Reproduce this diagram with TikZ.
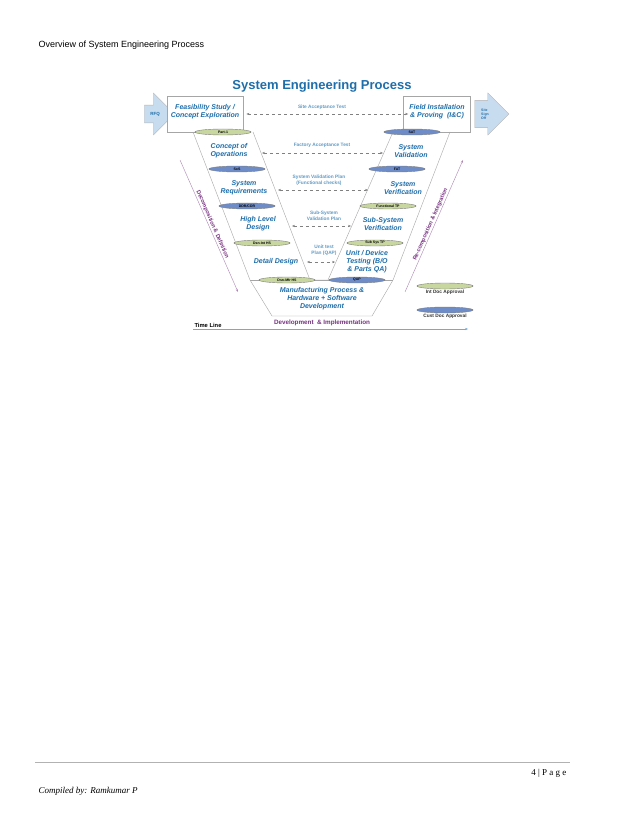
\documentclass[tikz,border=0pt]{standalone}
\usepackage{fontspec}
\setmainfont{Liberation Sans}
\newfontfamily\seriffont{Liberation Serif}
\usetikzlibrary{shapes.arrows,shapes.geometric,arrows.meta}
\definecolor{tblue}{RGB}{30,110,170}
\definecolor{lblue}{RGB}{200,220,240}
\definecolor{egreen}{RGB}{200,215,160}
\definecolor{eblue}{RGB}{110,140,200}
\definecolor{purp}{RGB}{120,50,130}
\begin{document}
\begin{tikzpicture}[x=1pt,y=-1pt,
  stage/.style={font=\fontsize{7}{8}\selectfont\bfseries\itshape,text=tblue,align=center,inner sep=1pt},
  lnk/.style={font=\fontsize{4.8}{5.6}\selectfont\bfseries,text=tblue!70,align=center,inner sep=1pt},
  dl/.style={dashed,gray,{Stealth[length=3pt]}-{Stealth[length=3pt]}},
  gel/.style={ellipse,draw=gray,fill=egreen,minimum width=56pt,minimum height=6pt,inner sep=0pt,font=\fontsize{3.5}{4}\selectfont\bfseries},
  bel/.style={ellipse,draw=gray,fill=eblue,minimum width=56pt,minimum height=6pt,inner sep=0pt,font=\fontsize{3.5}{4}\selectfont\bfseries},
  side/.style={font=\fontsize{5.6}{6}\selectfont\bfseries,text=purp,inner sep=0.5pt},
  colline/.style={draw=gray!70,thin}]
\useasboundingbox (0,0) rectangle (638,826);
\fill[white] (0,0) rectangle (638,826);
\node[anchor=west,font=\fontsize{9}{11}\selectfont] (hdr) at (35,45) {Overview of System Engineering Process};
\node[font=\fontsize{13}{15}\selectfont\bfseries,text=tblue] (title) at (322,86) {System Engineering Process};
% side arrows
\node[single arrow,draw=gray!60,fill=lblue,minimum height=30pt,minimum width=42pt,single arrow head extend=3pt,inner sep=0pt,
  font=\fontsize{4.5}{5}\selectfont\bfseries,text=tblue] (rfq) at (155,114) {RFQ\hspace{6pt}};
\node[single arrow,draw=gray!60,fill=lblue,minimum height=34pt,minimum width=42pt,single arrow head extend=3pt,inner sep=0pt,
  font=\fontsize{3.5}{4}\selectfont\bfseries,text=tblue,align=left] (sso) at (485,114) {Site\\Sign\\Off\hspace{12pt}};
% boxes
\draw[colline,fill=white] (167,96) rectangle (243,132);
\draw[colline,fill=white] (403,96) rectangle (470,132);
\node[stage] (fs) at (205,112) {Feasibility Study /\\Concept Exploration};
\node[stage] (fi) at (437,112) {Field Installation\\\& Proving\ \ (I\&C)};
% columns
\draw[colline] (193,132) -- (250,280) -- (272,316) -- (372,316) -- (393,280) -- (450,132);
\draw[colline] (253,132) -- (310,280) -- (328,280) -- (393,132);
\draw[colline] (250,280) -- (393,280);
% ellipses
\node[gel] (p1) at (223,132) {Part-1};
\node[bel] (sos) at (237,169) {SoS};
\node[bel] (ddr) at (247,206) {DDR/CDR};
\node[gel] (dih) at (262,243) {Dsn-Int HS};
\node[gel] (dmh) at (287,280) {Dsn-Mfr HS};
\node[bel] (sat) at (412,132) {SAT};
\node[bel] (fat) at (397,169) {FAT};
\node[gel] (ftp) at (388,206) {Functional TP};
\node[gel] (sst) at (375,243) {Sub Sys TP};
\node[bel] (qap) at (357,280) {QAP};
% stage texts
\node[stage] (co) at (229,151) {Concept of\\Operations};
\node[stage] (sr) at (244,188) {System\\Requirements};
\node[stage] (hl) at (258,224) {High Level\\Design};
\node[stage] (dd) at (276,262) {Detail Design};
\node[stage] (sv) at (411,151) {System\\Validation};
\node[stage] (sy) at (403,188) {System\\Verification};
\node[stage] (ssv) at (383,224) {Sub-System\\Verification};
\node[stage] (ud) at (367,262) {Unit / Device\\Testing (B/O\\\& Parts QA)};
\node[stage] (mp) at (322,299) {Manufacturing Process \&\\Hardware + Software\\Development};
% links
\node[lnk] (l1) at (322,107) {Site Acceptance Test};
\node[lnk] (l2) at (322,145) {Factory Acceptance Test};
\node[lnk] (l3) at (319,180) {System Validation Plan\\(Functional checks)};
\node[lnk] (l4) at (324,216) {Sub-System\\Validation Plan};
\node[lnk] (l5) at (324,250) {Unit test\\Plan (QAP)};
\draw[dl] (fs.east) ++(6,2) coordinate (a1) -- (a1 -| fi.west) coordinate (b1);
\coordinate (a2) at (262,153); \coordinate (b2) at (383,153);
\draw[dl] (a2) -- (b2);
\coordinate (a3) at (278,190); \coordinate (b3) at (368,190);
\draw[dl] (a3) -- (b3);
\coordinate (a4) at (292,226); \coordinate (b4) at (351,226);
\draw[dl] (a4) -- (b4);
\coordinate (a5) at (307,262); \coordinate (b5) at (335,262);
\draw[dl] (a5) -- (b5);
% side arrows
\coordinate (d1) at (180,160); \coordinate (d2) at (238,292);
\draw[purp!60,-{Stealth[length=3pt]}] (d1) -- (d2);
\path (d1) -- (d2) node[midway,sloped,above=0.5pt,side] (dec) {Decomposition \& Definition};
\coordinate (r1) at (405,292); \coordinate (r2) at (463,160);
\draw[purp!60,-{Stealth[length=3pt]}] (r1) -- (r2);
\path (r1) -- (r2) node[midway,sloped,above=0.5pt,side] (rec) {Re-composition \& Integration};
% legend
\node[gel,minimum width=56pt] (lg) at (445,286) {};
\node[font=\fontsize{4.8}{5}\selectfont\bfseries,text=gray!40!black] (lgt) at (445,292) {Int Doc Approval};
\node[bel,minimum width=56pt] (lb) at (445,310) {};
\node[font=\fontsize{4.8}{5}\selectfont\bfseries,text=gray!40!black] (lbt) at (445,316) {Cust Doc Approval};
% timeline
\node[font=\fontsize{6.3}{7}\selectfont\bfseries,text=purp] (dev) at (322,323) {Development\ \ \& Implementation};
\node[font=\fontsize{5.8}{6}\selectfont\bfseries,anchor=west] (tl) at (191,325) {Time Line};
\coordinate (t1) at (193,329); \coordinate (t2) at (468,329);
\draw[tblue!60,-{Stealth[length=3pt]}] (t1) -- (t2);
% footer
\draw[gray!60] (35,762) -- (570,762);
\node[anchor=east,font=\seriffont\fontsize{9}{11}\selectfont] (pg) at (570,773) {4 | P a g e};
\node[anchor=west,font=\seriffont\fontsize{9}{11}\selectfont\itshape] (cb) at (35,791) {Compiled by: Ramkumar P};
\end{tikzpicture}
\end{document}
